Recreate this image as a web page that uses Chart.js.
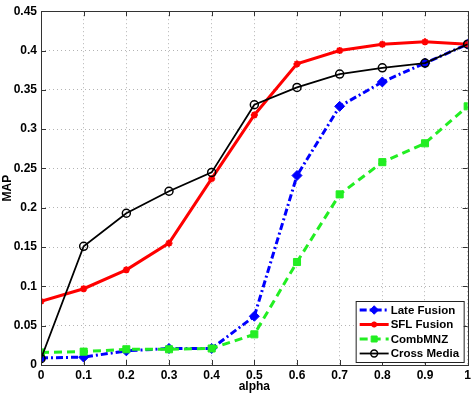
<!DOCTYPE html>
<html><head><meta charset="utf-8">
<script src="https://cdn.jsdelivr.net/npm/chart.js@4/dist/chart.umd.min.js"></script>
<style>html,body{margin:0;padding:0;background:#fff}#wrap{width:474px;height:394px}</style>
</head><body><div id="wrap"><canvas id="c" width="474" height="394"></canvas></div>
<script>
const alphas = [0, 0.1, 0.2, 0.3, 0.4, 0.5, 0.6, 0.7, 0.8, 0.9, 1];
const lateFusion = [0.009, 0.010, 0.018, 0.021, 0.021, 0.062, 0.241, 0.329, 0.360, 0.384, 0.408];
const sflFusion = [0.081, 0.097, 0.121, 0.155, 0.237, 0.318, 0.383, 0.400, 0.408, 0.411, 0.408];
const combMNZ = [0.016, 0.017, 0.020, 0.020, 0.021, 0.039, 0.131, 0.217, 0.258, 0.282, 0.329];
const crossMedia = [0.008, 0.151, 0.193, 0.221, 0.245, 0.331, 0.353, 0.370, 0.378, 0.384, 0.408];
const xTicks = [0, 0.1, 0.2, 0.3, 0.4, 0.5, 0.6, 0.7, 0.8, 0.9, 1];
const yTicks = [0, 0.05, 0.1, 0.15, 0.2, 0.25, 0.3, 0.35, 0.4, 0.45];
const seriesNames = ['Late Fusion', 'SFL Fusion', 'CombMNZ', 'Cross Media'];

const FONT = 'Liberation Sans, Arial, sans-serif';
const pts = arr => alphas.map((a, i) => ({x: a, y: arr[i]}));

const datasets = [
  {label: seriesNames[0], data: pts(lateFusion), borderColor: '#0000ff', backgroundColor: '#0000ff',
   borderWidth: 3, borderDash: [7, 3, 2, 3], pointStyle: 'rectRot', pointRadius: 5, pointBorderWidth: 1, order: 4},
  {label: seriesNames[1], data: pts(sflFusion), borderColor: '#ff0000', backgroundColor: '#ff0000',
   borderWidth: 3, pointStyle: 'star', pointRadius: 3.5, pointBorderWidth: 2, order: 3},
  {label: seriesNames[2], data: pts(combMNZ), borderColor: '#22ee22', backgroundColor: '#22ee22',
   borderWidth: 3, borderDash: [8, 5], pointStyle: 'rect', pointRadius: 5, pointBorderWidth: 1, order: 2},
  {label: seriesNames[3], data: pts(crossMedia), borderColor: '#000000', backgroundColor: 'rgba(0,0,0,0)',
   borderWidth: 1.8, pointStyle: 'circle', pointRadius: 4, pointBorderWidth: 1.5, order: 1}
];

const framePlugin = {
  id: 'frame',
  afterDatasetsDraw(chart) {
    const {ctx, chartArea: a, scales: {x, y}} = chart;
    ctx.save();
    ctx.strokeStyle = '#333';
    ctx.lineWidth = 1;
    ctx.beginPath();
    xTicks.forEach(v => {
      const px = Math.round(x.getPixelForValue(v)) + 0.5;
      ctx.moveTo(px, a.bottom); ctx.lineTo(px, a.bottom - 5);
      ctx.moveTo(px, a.top); ctx.lineTo(px, a.top + 5);
    });
    yTicks.forEach(v => {
      const py = Math.round(y.getPixelForValue(v)) + 0.5;
      ctx.moveTo(a.left, py); ctx.lineTo(a.left + 5, py);
      ctx.moveTo(a.right, py); ctx.lineTo(a.right - 5, py);
    });
    ctx.stroke();
    ctx.strokeRect(Math.round(a.left) + 0.5, Math.round(a.top) + 0.5, Math.round(a.right - a.left), Math.round(a.bottom - a.top));
    ctx.restore();
  },
  afterDraw(chart) {
    const {ctx, chartArea: a} = chart;
    const bx = a.right - 112, by = a.bottom - 64, bw = 108, bh = 61;
    ctx.save();
    ctx.fillStyle = '#fff';
    ctx.fillRect(bx, by, bw, bh);
    ctx.strokeStyle = '#222';
    ctx.lineWidth = 1;
    ctx.strokeRect(bx + 0.5, by + 0.5, bw, bh);
    ctx.font = 'bold 11.5px ' + FONT;
    ctx.textBaseline = 'middle';
    datasets.forEach((ds, i) => {
      const ry = by + 9 + i * 14.5;
      ctx.save();
      ctx.strokeStyle = ds.borderColor;
      ctx.lineWidth = ds.borderWidth;
      ctx.setLineDash(ds.borderDash || []);
      ctx.beginPath();
      ctx.moveTo(bx + 4, ry); ctx.lineTo(bx + 33, ry);
      ctx.stroke();
      ctx.setLineDash([]);
      ctx.fillStyle = ds.backgroundColor;
      ctx.strokeStyle = ds.borderColor;
      ctx.lineWidth = ds.pointBorderWidth;
      Chart.helpers.drawPoint(ctx, {pointStyle: ds.pointStyle, radius: ds.pointRadius * 0.85,
        borderWidth: ds.pointBorderWidth, rotation: 0}, bx + 18.5, ry);
      ctx.restore();
      ctx.fillStyle = '#000';
      ctx.fillText(ds.label, bx + 35, ry + 0.5);
    });
    ctx.restore();
  }
};

new Chart(document.getElementById('c'), {
  type: 'line',
  data: {datasets},
  options: {
    responsive: false,
    animation: false,
    layout: {padding: {top: 8, right: 5, left: 0, bottom: 0}},
    plugins: {legend: {display: false}, tooltip: {enabled: false}},
    elements: {line: {tension: 0}},
    scales: {
      x: {
        type: 'linear', min: 0, max: 1,
        afterBuildTicks: s => { s.ticks = xTicks.map(v => ({value: v})); },
        afterFit: s => { s.height = 29; },
        grid: {color: '#b4b4b4', lineWidth: 1, drawTicks: false},
        border: {display: false, dash: [1, 3]},
        ticks: {color: '#000', padding: 3, font: {family: FONT, size: 12, weight: 'bold'},
                callback: v => String(+v.toFixed(2))},
        title: {display: true, text: 'alpha', color: '#000', padding: {top: 0, bottom: 0},
                font: {family: FONT, size: 12, weight: 'bold'}}
      },
      y: {
        type: 'linear', min: 0, max: 0.45,
        afterBuildTicks: s => { s.ticks = yTicks.map(v => ({value: v})); },
        afterFit: s => { s.width = 41; },
        grid: {color: '#b4b4b4', lineWidth: 1, drawTicks: false},
        border: {display: false, dash: [1, 3]},
        ticks: {color: '#000', padding: 4, font: {family: FONT, size: 12, weight: 'bold'},
                callback: v => String(+v.toFixed(2))},
        title: {display: true, text: 'MAP', color: '#000', padding: {top: 0, bottom: 0},
                font: {family: FONT, size: 12, weight: 'bold'}}
      }
    }
  },
  plugins: [framePlugin]
});
</script>
</body></html>
